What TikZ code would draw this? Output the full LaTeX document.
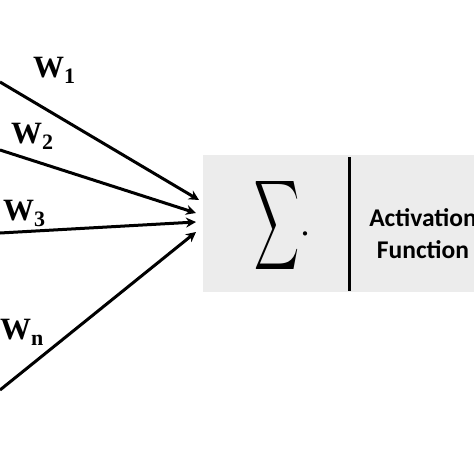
\documentclass[tikz,border=0pt]{standalone}
\usepackage{fontspec}
\setmainfont{Liberation Serif}
\newfontfamily\carl{Carlito}
\usetikzlibrary{arrows.meta}
\newcommand{\wsub}[1]{\raisebox{-6.5pt}{\fontsize{22}{22}\selectfont #1}}
\tikzset{
  wire/.style={line width=3pt,-{Stealth[length=10pt,width=10pt]}},
  wlabel/.style={font=\fontsize{31}{32}\selectfont\bfseries,inner sep=0pt,anchor=base west},
}
\begin{document}
\begin{tikzpicture}[x=1pt,y=-1pt]
\useasboundingbox (0,0) rectangle (474,474);
\clip (0,0) rectangle (474,474);
\fill[white] (0,0) rectangle (474,474);
% box
\node[fill={rgb,255:red,236;green,236;blue,236},minimum width=280pt,minimum height=137pt,inner sep=0pt,anchor=north west] (box) at (203,155) {};
\draw[line width=3pt] (349,157) coordinate (d1) -- (349,291) coordinate (d2);
\node[inner sep=0pt] (sig) at (277,225) {\resizebox{45pt}{66pt}{$\displaystyle\sum$}};
\node[inner sep=0pt,font=\fontsize{36}{36}\selectfont] (dot) at (305,234) {.};
\node[align=center,font=\carl\bfseries\fontsize{25.5}{32}\selectfont,inner sep=0pt] (act) at (423,234) {Activation\\Function};
% inputs
\coordinate (i1) at (0,82);
\coordinate (i2) at (0,150);
\coordinate (i3) at (0,233);
\coordinate (in) at (0,390);
\coordinate (t1) at (199,200);
\coordinate (t2) at (196,213);
\coordinate (t3) at (196,222);
\coordinate (tn) at (196,232);
\draw[wire] (i1) -- (t1);
\draw[wire] (i2) -- (t2);
\draw[wire] (i3) -- (t3);
\draw[wire] (in) -- (tn);
% labels
\node[wlabel] (w1) at (33,77) {W\wsub{1}};
\node[wlabel] (w2) at (11,143) {W\wsub{2}};
\node[wlabel] (w3) at (3,220) {W\wsub{3}};
\node[wlabel] (wn) at (0,339) {W\wsub{n}};
\end{tikzpicture}
\end{document}
